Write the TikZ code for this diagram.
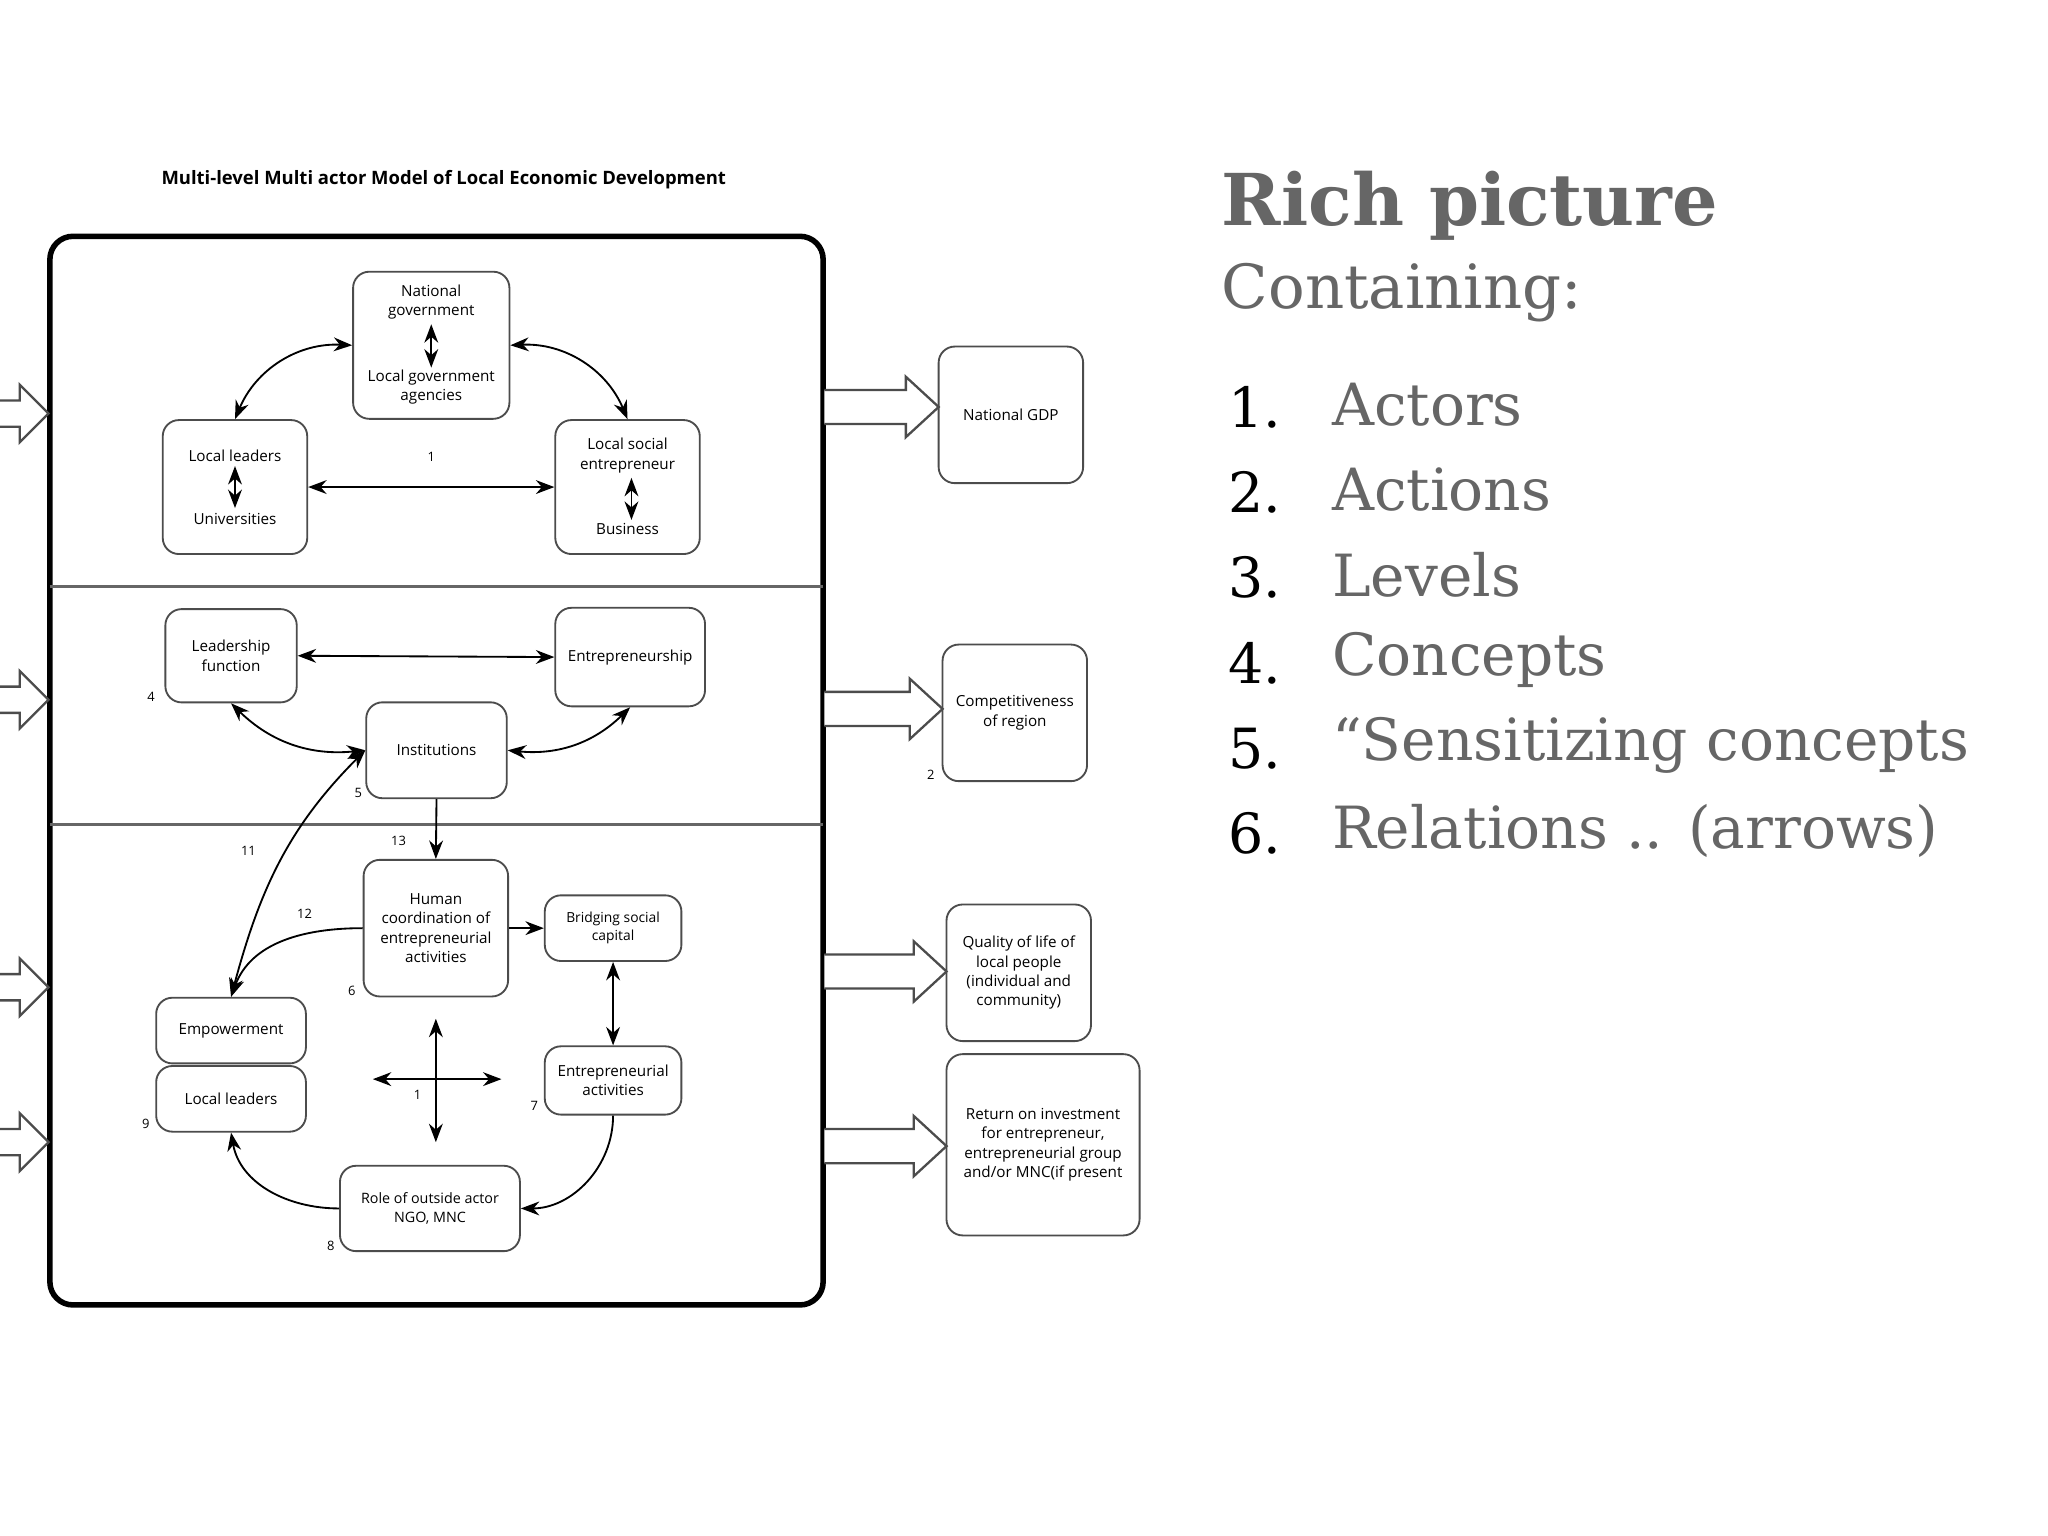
\documentclass[tikz,border=0pt]{standalone}
\usepackage{fontspec}
\setmainfont{Open Sans}
\newfontfamily\serifrp{DejaVu Serif}
\usetikzlibrary{arrows.meta}
\begin{document}
\begin{tikzpicture}[x=0.01cm,y=-0.01cm,
 bx/.style={draw=black!70,rounded corners=3.5pt,fill=white,align=center,font=\fontsize{3.3}{4.2}\selectfont,inner sep=1pt},
 tx/.style={font=\fontsize{3.3}{4.2}\selectfont,align=center},
 lab/.style={font=\fontsize{2.8}{3}\selectfont},
 arr/.style={-{Stealth[length=4pt,width=3pt]},thin},
 barr/.style={{Stealth[length=4pt,width=3pt]}-{Stealth[length=4pt,width=3pt]},thin},
 hollow/.style={draw=black!70,fill=white,line width=0.5pt}]
\useasboundingbox (0,0) rectangle (1560,1170);
\fill[white] (0,0) rectangle (1560,1170);
\node[font=\fontsize{4}{5}\selectfont\bfseries] (title) at (338,137) {Multi-level Multi actor Model of Local Economic Development};
\draw[line width=1.2pt,rounded corners=5] (38,180) rectangle (627,994);
\draw[black!60,line width=0.6pt] (38,447) -- (627,447);
\draw[black!60,line width=0.6pt] (38,628) -- (627,628);
% top level
\node[bx,minimum width=1.19cm,minimum height=1.12cm] (ng) at (328.5,263) {};
\node[tx] (ngt) at (328.5,230) {National\\government};
\node[tx] (ngb) at (328.5,295) {Local government\\agencies};
\draw[barr] (328.5,247) -- (328.5,280);
\node[bx,minimum width=1.10cm,minimum height=1.02cm] (ll) at (179,371) {};
\node[tx] (llt) at (179,347) {Local leaders};
\node[tx] (llb) at (179,395) {Universities};
\draw[barr] (179,355) -- (179,387);
\node[bx,minimum width=1.10cm,minimum height=1.02cm] (lse) at (478,371) {};
\node[tx] (lset) at (478,347) {Local social\\entrepreneur};
\node[tx] (lseb) at (478,403) {Business};
\draw[barr] (481,364) -- (481,396);
\draw[barr] (ll.east) -- node[lab,above=2pt]{1} (lse.west);
\draw[barr] (ng.west) to[bend right=35] (ll.north);
\draw[barr] (ng.east) to[bend left=35] (lse.north);
% middle level
\node[bx,minimum width=1.00cm,minimum height=0.71cm] (lf) at (176,499.5) {Leadership\\function};
\node[bx,minimum width=1.14cm,minimum height=0.75cm] (en) at (480,500.5) {Entrepreneurship};
\draw[barr] (lf.east) -- (en.west);
\node[lab] (n4) at (115,531) {4};
\node[bx,minimum width=1.07cm,minimum height=0.73cm] (in) at (332.5,571.5) {Institutions};
\node[lab] (n5) at (273,604) {5};
\draw[barr] (in.west) to[bend left=25] (lf.south);
\draw[barr] (in.east) to[bend right=25] (en.south);
% bottom level
\node[bx,minimum width=1.10cm,minimum height=1.04cm] (hc) at (332,707) {Human\\coordination of\\entrepreneurial\\activities};
\node[lab] (n6) at (268,755) {6};
\draw[arr] (in.south) -- node[lab,left=3pt,pos=0.7]{13} (hc.north);
\node[bx,minimum width=1.04cm,minimum height=0.50cm,font=\fontsize{3}{3.8}\selectfont] (bs) at (467,707) {Bridging social\\capital};
\draw[arr] (hc.east |- bs.west) -- (bs.west);
\node[bx,minimum width=1.04cm,minimum height=0.52cm] (ea) at (467,823) {Entrepreneurial\\activities};
\node[lab] (n7) at (407,842) {7};
\draw[barr] (bs.south) -- (ea.north);
\node[bx,minimum width=1.14cm,minimum height=0.50cm] (em) at (176,785) {Empowerment};
\node[bx,minimum width=1.14cm,minimum height=0.50cm] (ll2) at (176,837) {Local leaders};
\node[lab] (n9) at (111,856) {9};
\coordinate (vt) at (332,776); \coordinate (vb) at (332,870);
\coordinate (hl) at (284,822); \coordinate (hr) at (382,822);
\draw[barr] (vt) -- (vb);
\draw[barr] (hl) -- (hr);
\node[lab] (n1b) at (318,834) {1};
\node[bx,minimum width=1.37cm,minimum height=0.65cm,font=\fontsize{3.1}{4}\selectfont] (ro) at (327.5,920.5) {Role of outside actor\\NGO, MNC};
\node[lab] (n8) at (252,949) {8};
\draw[arr] (ea.south) to[out=-90,in=0] (ro.east);
\draw[arr] (ro.west) to[out=180,in=-80] (ll2.south);
\draw[arr] (hc.west) to[out=180,in=70] node[lab,above,pos=0.35]{12} (em.north);
\draw[barr] (in.west) to[out=-135,in=75] node[lab,left=3pt,pos=0.45]{11} (em.north);
% left hollow arrows
\foreach \yy in {315,533,752,870}{
 \draw[hollow] (0,\yy-10) -- (15,\yy-10) -- (15,\yy-22) -- (37,\yy) -- (15,\yy+22) -- (15,\yy+10) -- (0,\yy+10);
}
% right boxes
\node[bx,minimum width=1.10cm,minimum height=1.04cm] (gdp) at (770,316) {National GDP};
\node[bx,minimum width=1.10cm,minimum height=1.04cm] (cr) at (773,543) {Competitiveness\\of region};
\node[lab] (n2) at (709,590) {2};
\node[bx,minimum width=1.10cm,minimum height=1.04cm] (ql) at (776,741) {Quality of life of\\local people\\(individual and\\community)};
\node[bx,minimum width=1.47cm,minimum height=1.38cm] (ri) at (794.5,872) {Return on investment\\for entrepreneur,\\entrepreneurial group\\and/or MNC(if present};
\foreach \yy/\xe in {310/715,540/718,740/721,873/721}{
 \draw[hollow] (628,\yy-13) -- (\xe-25,\yy-13) -- (\xe-25,\yy-23) -- (\xe,\yy) -- (\xe-25,\yy+23) -- (\xe-25,\yy+13) -- (628,\yy+13);
}
% right text
\node[anchor=west,text=black!60,font=\serifrp\bfseries\fontsize{15.5}{18}\selectfont,inner sep=0pt] (rp) at (930,157) {Rich picture};
\node[anchor=west,text=black!60,font=\serifrp\fontsize{13.2}{16}\selectfont,inner sep=0pt] (ct) at (930,223) {Containing:};
\foreach \i/\t [count=\k] in {1/Actors,2/Actions,3/Levels,4/Concepts,5/{“Sensitizing concepts},6/{Relations .. (arrows)}}{
 \node[anchor=west,font=\serifrp\fontsize{12}{14}\selectfont,inner sep=0pt] (num\k) at (935,245+65*\k) {\i.};
 \node[anchor=west,text=black!60,font=\serifrp\fontsize{12.6}{15}\selectfont,inner sep=0pt] (it\k) at (1014,243+65*\k) {\t};
}
\end{tikzpicture}
\end{document}
